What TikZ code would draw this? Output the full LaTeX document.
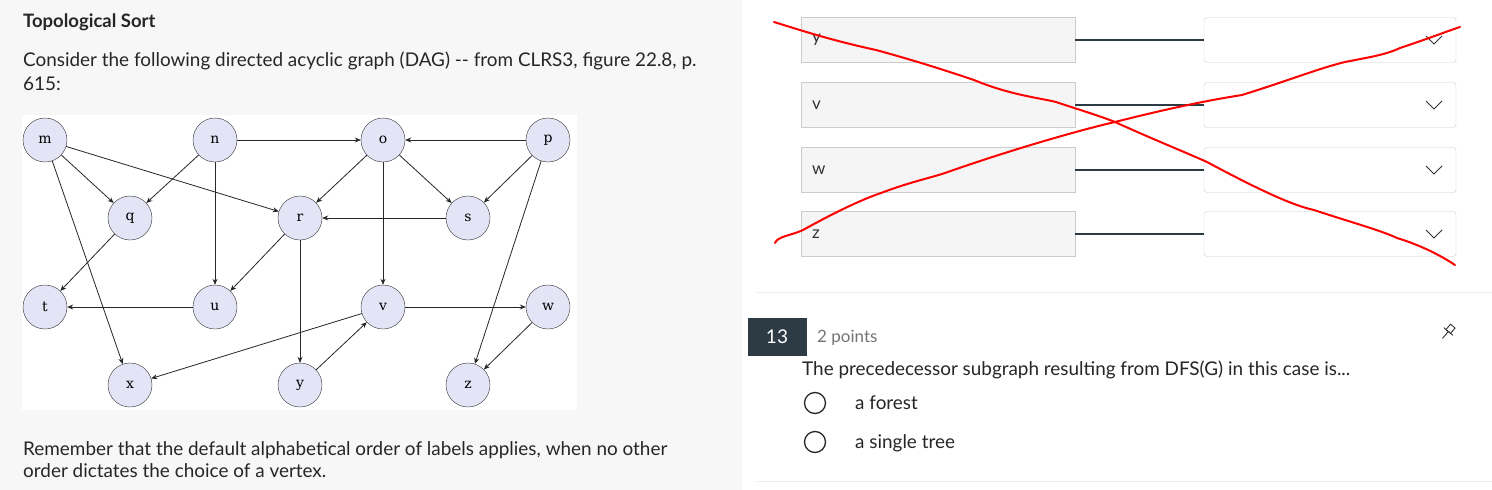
\documentclass[tikz,border=0pt]{standalone}
\usepackage{fontspec}
\setmainfont{Lato}
\newfontfamily\gfont{DejaVu Serif}
\begin{document}
\begin{tikzpicture}[x=1pt,y=-1pt,
  txt/.style={anchor=base west,inner sep=0pt,font=\fontsize{18.9}{22}\selectfont,text=black!85},
  vtx/.style={circle,draw=black!80,fill={rgb,255:red,228;green,228;blue,247},minimum size=44pt,inner sep=0pt,font=\gfont\fontsize{14}{14}\selectfont},
  edge/.style={draw=black!85,line width=0.8pt,-{Stealth[length=6pt,width=5pt]}},
  lbox/.style={draw=black!20,fill=black!4,minimum width=274pt,minimum height=45pt,inner sep=0pt},
  rbox/.style={draw=black!20,fill=white,rounded corners=3pt,minimum width=252pt,minimum height=45pt,inner sep=0pt},
  conn/.style={draw={rgb,255:red,45;green,59;blue,69},line width=1.5pt},
  redline/.style={draw=red,line width=2pt,line cap=round,line join=round}]
\usetikzlibrary{arrows.meta}
\useasboundingbox (0,0) rectangle (1492,490);
\fill[black!3] (0,0) rectangle (742,490);
\fill[white] (22,115) rectangle (577,410);
\node[txt,font=\bfseries\fontsize{18.5}{22}\selectfont] (title) at (23,27) {Topological Sort};
\node[txt] (l1) at (23,66) {Consider the following directed acyclic graph (DAG) -{}- from CLRS3, figure 22.8, p.};
\node[txt] (l2) at (23,90) {615:};
\node[txt] (l3) at (23,455) {Remember that the default alphabetical order of labels applies, when no other};
\node[txt] (l4) at (23,477) {order dictates the choice of a vertex.};
% graph
\foreach \n/\x/\y in {m/45/140,n/215/140,o/383/140,p/548/140,q/130/218,r/300/218,s/468/218,t/45/307,u/215/307,v/383/307,w/548/307,x/130/385,y/300/385,z/468/385}
  \node[vtx] (\n) at (\x,\y) {\n};
\foreach \a/\b in {m/q,m/r,m/x,n/q,n/o,n/u,o/r,o/s,o/v,p/o,p/s,p/z,q/t,r/u,r/y,s/r,u/t,v/w,v/x,y/v,w/z}
  \path[edge] (\a) -- (\b);
% right panel
\foreach \lab/\yy/\i in {y/40/1,v/105/2,w/170/3,z/234/4}{
  \node[lbox] (L\i) at (938,\yy) {};
  \node[anchor=west,inner sep=0pt,font=\fontsize{17}{17}\selectfont,text=black!80] at (812,\yy) {\lab};
  \node[rbox] (R\i) at (1330,\yy) {};
  \draw[conn] (L\i.east) -- (R\i.west);
  \draw[black!80,line width=1pt] (1426,\yy-4) -- (1434,\yy+4) -- (1442,\yy-4);
}
\draw[black!8] (757,292) -- (1492,292);
\draw[black!8] (757,481) -- (1492,481);
\node[fill={rgb,255:red,45;green,59;blue,69},minimum width=59pt,minimum height=38pt,inner sep=0pt,text=white,font=\fontsize{19}{19}\selectfont] (num) at (777,337) {13};
\node[anchor=west,inner sep=0pt,text=black!55,font=\fontsize{17}{17}\selectfont] (pts) at (817,338) {2 points};
\node[txt] (q) at (802,375) {The precedecessor subgraph resulting from DFS(G) in this case is...};
\node[circle,draw=black!85,line width=1.3pt,minimum size=21pt,inner sep=0pt] (r1) at (815,403) {};
\node[circle,draw=black!85,line width=1.3pt,minimum size=21pt,inner sep=0pt] (r2) at (815,442) {};
\node[txt] (a1) at (855,409) {a forest};
\node[txt] (a2) at (855,448) {a single tree};
% pin icon
\begin{scope}[shift={(1447,333)},rotate=-40,black!80,line width=0.9pt]
  \draw (-3,-9) rectangle (3,-2);
  \draw (-6,-2) -- (6,-2);
  \draw (0,-2) -- (0,7);
\end{scope}
% red crossing lines
\draw[redline] (774,22) .. controls (800,30) and (830,40) .. (876,50) .. controls (920,62) and (950,72) .. (974,80) .. controls (1010,95) and (1040,98) .. (1056,102) .. controls (1080,110) and (1100,116) .. (1115,122) .. controls (1150,138) and (1180,150) .. (1207,162) .. controls (1250,185) and (1290,205) .. (1314,210) .. controls (1350,222) and (1380,230) .. (1397,238) .. controls (1420,245) and (1440,255) .. (1455,265);
\draw[redline] (775,243) .. controls (778,236) and (790,236) .. (803,230) .. controls (830,215) and (860,200) .. (881,193) .. controls (910,182) and (930,178) .. (945,173) .. controls (1010,150) and (1080,130) .. (1115,122) .. controls (1170,108) and (1210,100) .. (1242,95) .. controls (1290,80) and (1320,68) .. (1345,62) .. controls (1370,57) and (1385,55) .. (1400,48) .. controls (1430,38) and (1445,32) .. (1460,27);
\end{tikzpicture}
\end{document}
